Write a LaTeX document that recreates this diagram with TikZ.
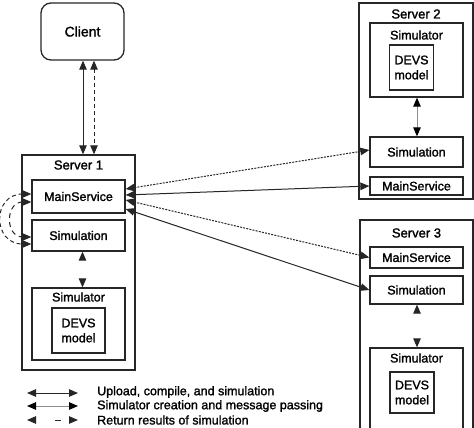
\documentclass[tikz,border=0pt]{standalone}
\usepackage{fontspec}
\setmainfont{Liberation Sans}[BoldFont={Liberation Sans},BoldFeatures={FakeBold=1.5}]
\usetikzlibrary{arrows.meta,calc}
\begin{document}
\begin{tikzpicture}[x=1pt,y=-1pt,
  every node/.append style={font=\bfseries},
  box/.style={draw=black!85,line width=1.3pt,inner sep=0pt,font=\fontsize{12.5}{15}\selectfont\bfseries,align=center},
  ttl/.style={inner sep=0pt,font=\fontsize{13}{15}\selectfont\bfseries},
  con/.style={line width=1pt,black!85,{Triangle[length=9pt,width=7.5pt]}-{Triangle[length=9pt,width=7.5pt]}},
  graycon/.style={con,draw=black!45,arrows={{Triangle[length=9pt,width=7.5pt,fill=black,color=black]}-{Triangle[length=9pt,width=7.5pt,fill=black,color=black]}}},
  dashcon/.style={con,dash pattern=on 4pt off 3pt},
  finecon/.style={con,dash pattern=on 2pt off 1.2pt},
  gapcon/.style={con,dash pattern=on 0pt off 100pt},
  legtxt/.style={inner sep=0pt,anchor=west,font=\fontsize{12.5}{14}\selectfont\bfseries}
]
\useasboundingbox (0,0) rectangle (474,428);

% Client
\node[box,rounded corners=10pt,minimum width=83pt,minimum height=57pt,font=\fontsize{14}{16}\selectfont\bfseries] (client) at (82.5,31.5) {Client};

% Server 1
\node[box,minimum width=113pt,minimum height=215pt] (s1) at (78.5,262.5) {};
\node[ttl] (s1t) at (78.5,165) {Server 1};
\node[box,minimum width=93pt,minimum height=33pt] (ms1) at (78.5,196.5) {MainService};
\node[box,minimum width=93pt,minimum height=31pt] (sim1) at (78.5,235.5) {Simulation};
\node[box,minimum width=93pt,minimum height=72pt] (simr1) at (78.5,324) {};
\node[ttl,font=\fontsize{12.5}{15}\selectfont\bfseries] (simr1t) at (78.5,297) {Simulator};
\node[box,minimum width=53pt,minimum height=45pt] (devs1) at (78.5,330.5) {DEVS\\model};

% Server 2
\node[box,minimum width=114pt,minimum height=196pt] (s2) at (416,101) {};
\node[ttl] (s2t) at (416,14) {Server 2};
\node[box,minimum width=93pt,minimum height=74pt] (simr2) at (416.5,60) {};
\node[ttl,font=\fontsize{12.5}{15}\selectfont\bfseries] (simr2t) at (416.5,35) {Simulator};
\node[box,minimum width=44pt,minimum height=45pt] (devs2) at (411.5,67.5) {DEVS\\model};
\node[box,minimum width=93pt,minimum height=30pt] (sim2) at (416.5,152) {Simulation};
\node[box,minimum width=93pt,minimum height=18pt] (ms2) at (416.5,186) {MainService};

% Server 3
\node[box,minimum width=113pt,minimum height=220pt] (s3) at (416.5,330) {};
\node[ttl] (s3t) at (416.5,233) {Server 3};
\node[box,minimum width=93pt,minimum height=21pt] (ms3) at (416.5,257.5) {MainService};
\node[box,minimum width=93pt,minimum height=28pt] (sim3) at (416.5,290) {Simulation};
\node[box,minimum width=93pt,minimum height=84pt] (simr3) at (416.5,390) {};
\node[ttl,font=\fontsize{12.5}{15}\selectfont\bfseries] (simr3t) at (416.5,358) {Simulator};
\node[box,minimum width=44pt,minimum height=41pt] (devs3) at (412,392.5) {DEVS\\model};

% Client <-> Server 1
\draw[con] ([xshift=0.5pt]client.south) -- ([xshift=4.5pt]s1.north);
\draw[dashcon] ([xshift=11.5pt]client.south) -- ([xshift=15.5pt]s1.north);

% internal arrows
\draw[gapcon] ([xshift=4pt]sim1.south) -- ([xshift=4pt]simr1.north);
\draw[graycon] ([xshift=0.5pt]simr2.south) -- ([xshift=0.5pt]sim2.north);
\draw[gapcon] ([xshift=0.5pt]sim3.south) -- ([xshift=0.5pt]simr3.north);

% cross connections
\draw[finecon] ([yshift=7.5pt]ms1.east) -- ([yshift=2pt]sim2.west);
\draw[con] ([yshift=1.5pt]ms1.east) -- (ms2.west);
\draw[finecon] ([yshift=-3.5pt]ms1.east) -- (ms3.west);
\draw[con] ([yshift=-12.5pt]ms1.east) -- (sim3.west);

% loops MainService <-> Simulation
\draw[dashcon] ([yshift=2.5pt]ms1.west) .. controls (-8,194) and (-8,244) .. ([yshift=-8.5pt]sim1.west);
\draw[con,dash pattern=on 5pt off 4pt] ([yshift=-5.5pt]ms1.west) .. controls (5,202) and (5,237) .. ([yshift=-1.5pt]sim1.west);

% legend
\coordinate (l1a) at (27,393); \coordinate (l1b) at (78,393);
\coordinate (l2a) at (27,406); \coordinate (l2b) at (78,406);
\coordinate (l3a) at (27,420); \coordinate (l3b) at (78,420);
\draw[con] (l1a) -- (l1b);
\draw[graycon] (l2a) -- (l2b);
\draw[con,dash pattern=on 0pt off 19pt on 6pt off 30pt] (l3a) -- (l3b);
\node[legtxt] (t1) at (97,392) {Upload, compile, and simulation};
\node[legtxt] (t2) at (97,406) {Simulator creation and message passing};
\node[legtxt] (t3) at (97,420) {Return results of simulation};
\end{tikzpicture}
\end{document}
